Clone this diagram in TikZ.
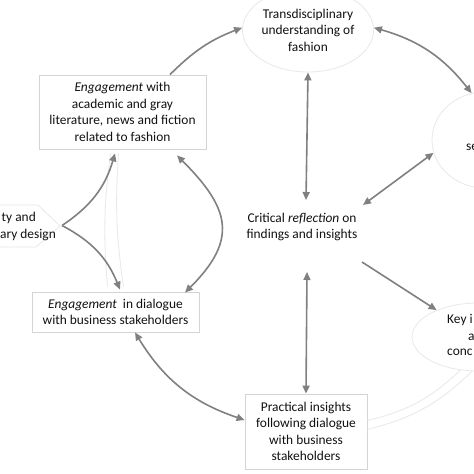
\documentclass[tikz,border=0pt]{standalone}
\usepackage{fontspec}
\setmainfont{Carlito}
\usetikzlibrary{arrows.meta,shapes.geometric}
\definecolor{arrowgray}{HTML}{808080}
\definecolor{boxgray}{HTML}{D4D4D4}
\definecolor{faintgray}{HTML}{E8E8E8}
\definecolor{textblack}{HTML}{111111}
\tikzset{
  txt/.style={font=\fontsize{13.4}{16.5}\selectfont, text=textblack, align=center},
  boxnode/.style={txt, draw=boxgray, line width=0.8pt, inner sep=0pt},
  ellnode/.style={txt, ellipse, draw=faintgray, line width=0.8pt, inner sep=0pt},
  conn/.style={draw=arrowgray, line width=1.6pt, -{Triangle[length=8pt,width=7pt]}},
  bconn/.style={draw=arrowgray, line width=1.6pt, {Triangle[length=8pt,width=7pt]}-{Triangle[length=8pt,width=7pt]}},
  faint/.style={draw=faintgray, line width=0.8pt},
}
\begin{document}
\begin{tikzpicture}[x=1pt,y=1pt]
\useasboundingbox (0,0) rectangle (474,474);
\clip (0,0) rectangle (474,474);
\fill[white] (0,0) rectangle (474,474);

% faint shapes
\draw[faint] (0,269) -- (38,269) -- (60,248) -- (36,227) -- (0,227);
\coordinate (lt) at (62,248.5);

% nodes
\node[ellnode, minimum width=126pt, minimum height=84pt] (top) at (308,444)
  {Transdisciplinary\\understanding of\\fashion};
\node[boxnode, minimum width=167pt, minimum height=74pt] (box1) at (122.5,362)
  {\textit{Engagement} with\\academic and gray\\literature, news and fiction\\related to fashion};
\node[boxnode, minimum width=167pt, minimum height=40pt] (box2) at (115.5,162)
  {\textit{Engagement}\ \ in dialogue\\with business stakeholders};
\node[boxnode, minimum width=122pt, minimum height=75pt] (box3) at (306,42.5)
  {Practical insights\\following dialogue\\with business\\stakeholders};
\node[txt, inner sep=0pt] (crit) at (302,247)
  {Critical \textit{reflection} on\\findings and insights};
\node[ellnode, minimum width=106pt, minimum height=96pt] (rc) at (485,334) {};
\node[txt, anchor=west, inner sep=0pt] (rctext) at (466,327) {se};
\node[ellnode, minimum width=132pt, minimum height=68pt] (key) at (478,137) {};
\node[txt, anchor=west, inner sep=0pt] (key1) at (447,154) {Key i};
\node[txt, anchor=west, inner sep=0pt] (key2) at (468,137) {a};
\node[txt, anchor=west, inner sep=0pt] (key3) at (447,122) {conc};
\node[txt, anchor=east, inner sep=0pt] (left1) at (36,256) {ty and};
\node[txt, anchor=east, inner sep=0pt] (left2) at (56,239) {ary design};

% faint connector outlines
\draw[faint] ([xshift=-12pt,yshift=-4pt]box1.south) to[bend right=6] ([xshift=-8pt,yshift=5pt]box2.north);
\draw[faint] ([xshift=-4pt,yshift=-4pt]box1.south) to[bend right=6] ([xshift=8pt,yshift=5pt]box2.north);
\draw[faint] ([yshift=11pt]box3.east) to[bend right=15] (key.-118);
\draw[faint] ([yshift=2pt]box3.east) to[bend right=15] (key.-100);

% connectors
\draw[conn] ([xshift=47.5pt]box1.north) to[bend left=12] (top.178);
\draw[bconn] (top.2) to[bend left=18] (rc.106);
\draw[bconn] (top.south) -- ([xshift=4pt,yshift=27pt]crit.center);
\draw[bconn] ([xshift=61pt,yshift=22pt]crit.center) -- (rc.194);
\draw[conn] ([xshift=60pt,yshift=-35pt]crit.center) -- (key.147);
\draw[bconn] ([xshift=5pt,yshift=-45pt]crit.center) -- (box3.north);
\draw[bconn] ([xshift=19.5pt]box2.south) to[bend right=20] ([yshift=11.5pt]box3.west);
\draw[conn] (lt) to[bend right=20] ([xshift=-7.5pt,yshift=-4pt]box1.south);
\draw[conn] (lt) to[bend left=20] ([xshift=4.5pt,yshift=2pt]box2.north);
\draw[bconn] ([xshift=54.5pt,yshift=-6pt]box1.south) to[out=-45,in=45,looseness=1.4] ([xshift=69.5pt,yshift=-1pt]box2.north);
\end{tikzpicture}
\end{document}
